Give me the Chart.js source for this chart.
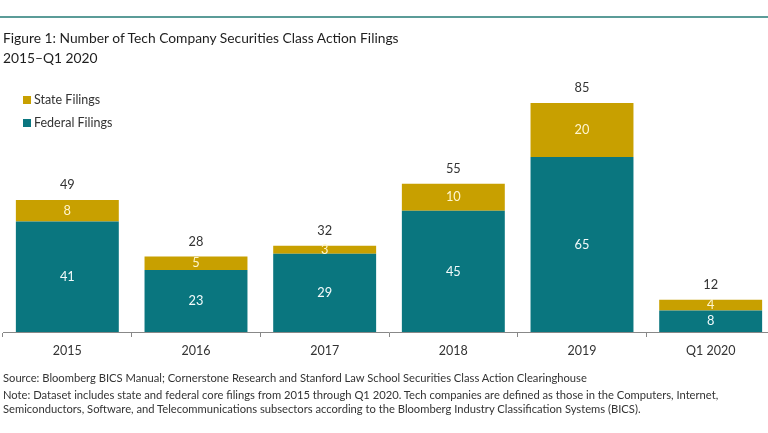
<!DOCTYPE html>
<html>
<head>
<meta charset="utf-8">
<script src="https://cdn.jsdelivr.net/npm/chart.js@4.4.1/dist/chart.umd.min.js"></script>
<style>
  html, body { margin: 0; padding: 0; background: #fff; overflow: hidden; }
  body { width: 768px; height: 433px; position: relative; font-family: Lato, "Open Sans", sans-serif; color: #222; }
  #topRule { position: absolute; left: 0; top: 16px; width: 768px; height: 2px; background: #5b9c98; }
  #title { position: absolute; left: 3px; top: 28px; font-size: 13.8px; line-height: 20px; color: #1e1e1e; }
  #legend { position: absolute; left: 23px; top: 91px; font-size: 12.5px; color: #333; }
  #legend div { height: 23px; line-height: 18px; }
  #legend span { display: inline-block; width: 8px; height: 8px; margin-right: 3px; vertical-align: 0px; }
  #chartBox { position: absolute; left: 0; top: 0; width: 780px; height: 433px; }
  #notes { position: absolute; left: 3px; top: 371px; font-size: 11.2px; line-height: 14.5px; color: #333; }
  #notes p { margin: 0; }
</style>
</head>
<body>
<div id="chartBox"><canvas id="myChart"></canvas></div>
<div id="topRule"></div>
<div id="title">Figure 1: Number of Tech Company Securities Class Action Filings<br>2015–Q1 2020</div>
<div id="legend">
  <div><span style="background:#c8a000"></span>State Filings</div>
  <div><span style="background:#0b7780"></span>Federal Filings</div>
</div>
<div id="notes">
  <p style="margin-bottom:2px">Source: Bloomberg BICS Manual; Cornerstone Research and Stanford Law School Securities Class Action Clearinghouse</p>
  <p>Note: Dataset includes state and federal core filings from 2015 through Q1 2020. Tech companies are defined as those in the Computers, Internet,<br>Semiconductors, Software, and Telecommunications subsectors according to the Bloomberg Industry Classification Systems (BICS).</p>
</div>
<script>
// chart data
const categories = ['2015', '2016', '2017', '2018', '2019', 'Q1 2020'];
const federalFilings = [41, 23, 29, 45, 65, 8];
const stateFilings = [8, 5, 3, 10, 20, 4];
const totalFilings = [49, 28, 32, 55, 85, 12];

const fontName = 'Lato, "Open Sans", sans-serif';

// draws the numbers inside the bars and the totals on top
const barLabels = {
  id: 'barLabels',
  afterDatasetsDraw(chart) {
    const ctx = chart.ctx;
    ctx.save();
    ctx.textAlign = 'center';
    ctx.textBaseline = 'middle';
    ctx.font = '12.8px ' + fontName;
    chart.data.datasets.forEach((ds, i) => {
      const meta = chart.getDatasetMeta(i);
      meta.data.forEach((bar, j) => {
        ctx.fillStyle = ds.labelColor;
        ctx.fillText(ds.data[j], bar.x, (bar.y + bar.base) / 2);
        if (ds.isTop) {
          ctx.fillStyle = '#333';
          ctx.fillText(totalFilings[j], bar.x, bar.y - 15);
        }
      });
    });
    ctx.restore();
  }
};

const ctx = document.getElementById('myChart').getContext('2d');
const chart = new Chart(ctx, {
  type: 'bar',
  data: {
    labels: categories,
    datasets: [
      {
        label: 'Federal Filings',
        data: federalFilings,
        backgroundColor: '#0a767f',
        labelColor: '#f4fbfb'
      },
      {
        label: 'State Filings',
        data: stateFilings,
        backgroundColor: '#c8a000',
        labelColor: '#fff6cf',
        isTop: true
      }
    ]
  },
  options: {
    responsive: true,
    maintainAspectRatio: false,
    animation: false,
    layout: { padding: { left: 3, right: 5, top: 62.6, bottom: 71 } },
    plugins: {
      legend: { display: false },
      tooltip: { enabled: false }
    },
    datasets: {
      bar: { barPercentage: 0.8, categoryPercentage: 1.0 }
    },
    scales: {
      x: {
        stacked: true,
        grid: { drawOnChartArea: false, tickLength: 5, color: '#888' },
        border: { color: '#888', width: 1 },
        ticks: { color: '#333', padding: 6, font: { family: fontName, size: 12.5 } },
        afterFit: (scale) => { scale.height = 30; }
      },
      y: {
        stacked: true,
        display: false,
        min: 0,
        max: 100
      }
    }
  },
  plugins: [barLabels]
});
</script>
</body>
</html>
